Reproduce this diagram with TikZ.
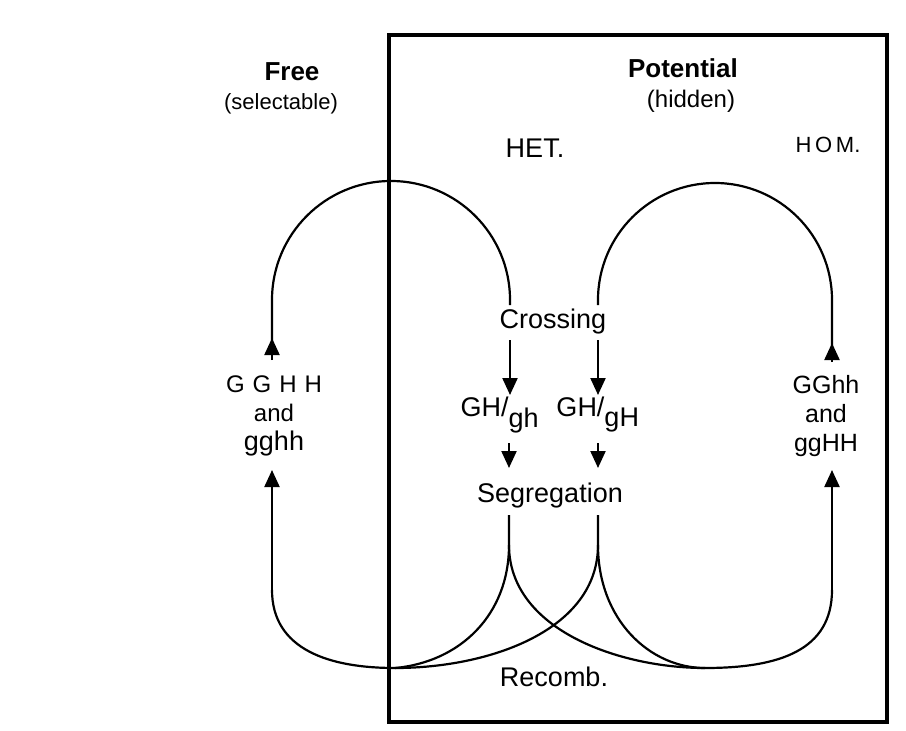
\documentclass[tikz,border=0pt]{standalone}
\usepackage{fontspec}
\setmainfont{Liberation Sans}
\usetikzlibrary{arrows.meta}
\begin{document}
\begin{tikzpicture}[x=1pt,y=-1pt,
  lbl/.style={font=\fontsize{27}{30}\selectfont,inner sep=0pt},
  sml/.style={font=\fontsize{22}{24}\selectfont,inner sep=0pt},
  ln/.style={line width=2.2pt},
  arr/.style={ln,-{Triangle[width=15pt,length=17pt]}}]
\useasboundingbox (0,0) rectangle (906,731);
\draw[line width=3.2pt] (389,35) rectangle (887,722);
\node[lbl,font=\bfseries\fontsize{26}{28}\selectfont] (free) at (292,72) {Free};
\node[sml] (sel) at (281,104) {(selectable)};
\node[lbl,font=\bfseries\fontsize{26}{28}\selectfont] (pot) at (683,68) {Potential};
\node[sml,font=\fontsize{24}{26}\selectfont] (hid) at (691,101) {(hidden)};
\node[lbl] (het) at (535,148) {HET.};
\node[sml] (hom) at (828,145) {H\,O\,M.};
\node[lbl] (cross) at (553,322) {Crossing};
\node[lbl] (gh1) at (500,415) {GH/$_{\textrm{gh}}$};
\node[lbl] (gh2) at (598,415) {GH/$_{\textrm{gH}}$};
\node[lbl] (seg) at (550,496) {Segregation};
\node[lbl] (rec) at (554,677) {Recomb.};
\node[lbl,align=center,font=\fontsize{24}{29}\selectfont] (L) at (274,416) {G\,\,G\,\,H\,\,H\\and\\\fontsize{27}{29}\selectfont gghh};
\node[lbl,align=center,font=\fontsize{25}{29}\selectfont] (R) at (826,416) {GGhh\\and\\ggHH};
% top loops
\draw[ln] (510,305) -- (510,300) arc[start angle=0,end angle=-180,radius=119] -- (272,345);
\draw[ln] (598,305) -- (598,300) arc[start angle=180,end angle=360,radius=117] -- (832,350);
\draw[arr] (272,360) -- (272,338);
\draw[arr] (832,362) -- (832,343);
% middle arrows
\draw[arr] (510,340) -- (510,395);
\draw[arr] (598,340) -- (598,395);
\draw[arr] (509,443) -- (509,468);
\draw[arr] (598,443) -- (598,468);
% bottom
\coordinate (bl) at (395,668);
\coordinate (br) at (705,668);
\draw[arr] (272,590) -- (272,470);
\draw[arr] (832,590) -- (832,470);
\draw[ln] (272,590) .. controls (272,650) and (330,668) .. (bl);
\draw[ln] (832,590) .. controls (832,650) and (780,668) .. (br);
\draw[ln] (509,515) -- (509,545) .. controls (509,615) and (460,662) .. (bl);
\draw[ln] (509,545) .. controls (509,630) and (620,668) .. (br);
\draw[ln] (598,515) -- (598,545) .. controls (598,630) and (490,668) .. (bl);
\draw[ln] (598,545) .. controls (598,620) and (650,668) .. (br);
\end{tikzpicture}
\end{document}
